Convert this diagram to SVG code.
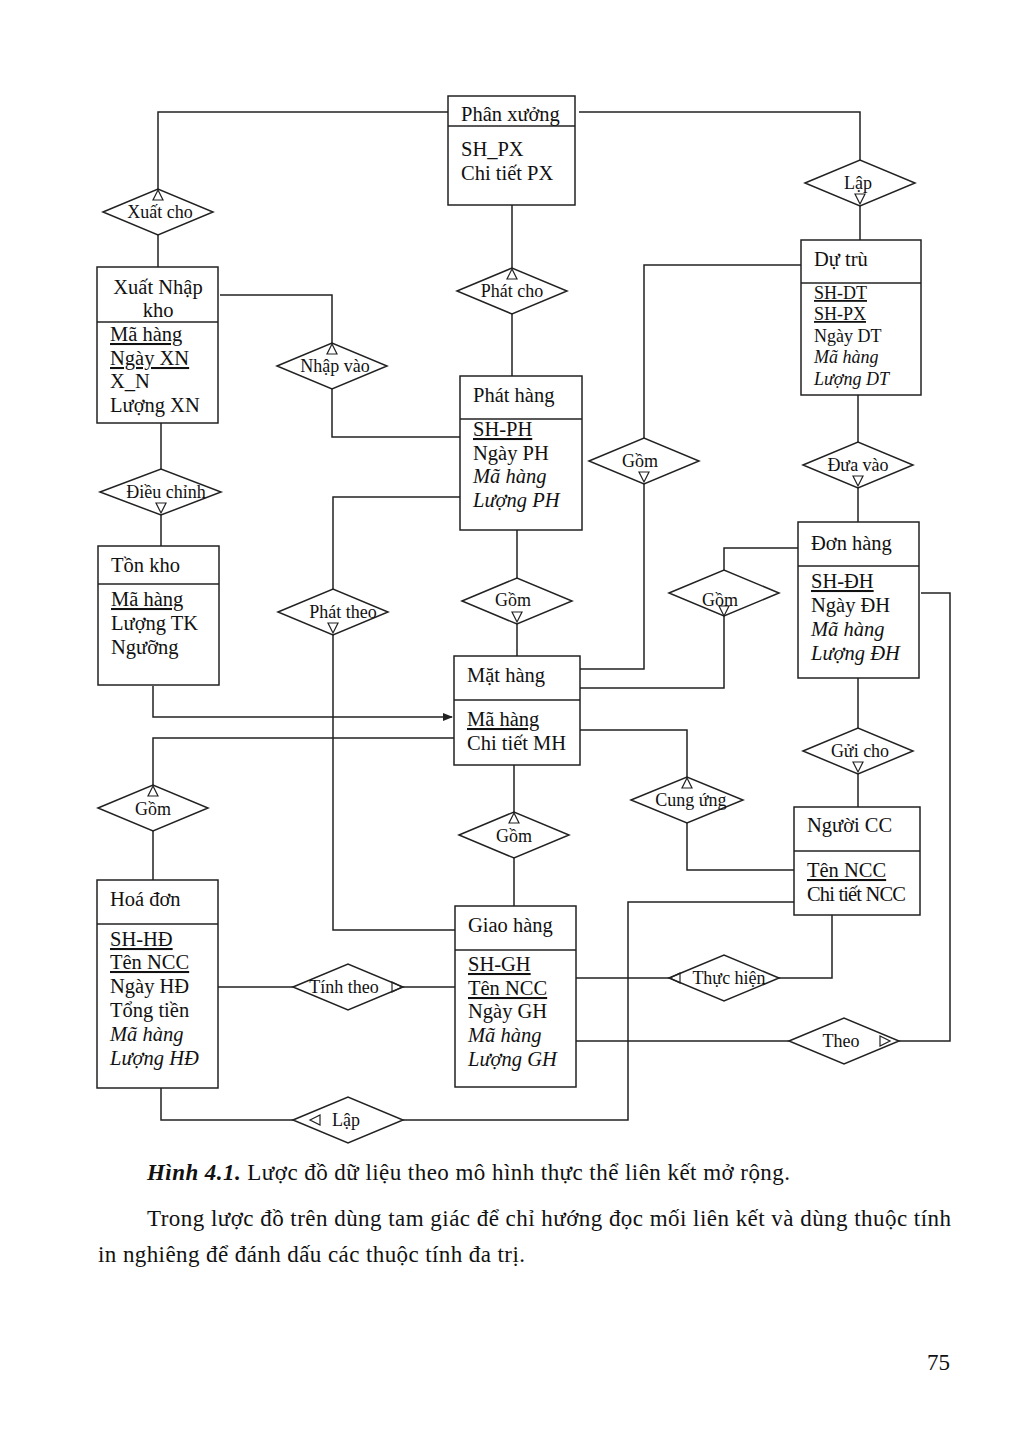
<svg xmlns="http://www.w3.org/2000/svg" width="1024" height="1450" viewBox="0 0 1024 1450">
<style>
.b{fill:#fff;stroke:#222;stroke-width:1.5}
.l{fill:none;stroke:#222;stroke-width:1.5}
.t{font-family:"Liberation Serif",serif;font-size:20.5px;fill:#111}
.s{font-family:"Liberation Serif",serif;font-size:18px;fill:#111}
.d{font-family:"Liberation Serif",serif;font-size:18px;fill:#111;text-anchor:middle}
.u{text-decoration:underline}
.i{font-style:italic}
.tr{fill:none;stroke:#222;stroke-width:1.2}
.c{font-family:"Liberation Serif",serif;font-size:23px;fill:#111}
</style>
<defs>
<marker id="ar" markerWidth="10" markerHeight="8" refX="9" refY="4" orient="auto" markerUnits="userSpaceOnUse"><path d="M0,0 L10,4 L0,8 z" fill="#222"/></marker>
</defs>
<g id="connectors">
<path class="l" d="M448,112 H158 V189 M158,235 V267"/>
<path class="l" d="M579,112 H860 V160 M860,206 V240"/>
<path class="l" d="M512,205 V268 M512,314 V376"/>
<path class="l" d="M220,295 H332 V343 M332,389 V437 H460"/>
<path class="l" d="M161,423 V469 M161,515 V546"/>
<path class="l" d="M153,686 V717 H452" marker-end="url(#ar)"/>
<path class="l" d="M801,265 H644 V438 M644,484 V669 H580"/>
<path class="l" d="M858,395 V442 M858,488 V522"/>
<path class="l" d="M517,530 V578 M517,624 V656"/>
<path class="l" d="M460,497 H333 V589 M333,635 V930 H455"/>
<path class="l" d="M798,548 H724 V570 M724,616 V688 H580"/>
<path class="l" d="M921,593 H950 V1041 H899 M789,1041 H576"/>
<path class="l" d="M858,678 V728 M858,774 V807"/>
<path class="l" d="M454,738 H153 V785 M153,831 V880"/>
<path class="l" d="M580,730 H687 V777 M687,823 V870 H794"/>
<path class="l" d="M514,765 V812 M514,858 V906"/>
<path class="l" d="M218,987 H293 M403,987 H455"/>
<path class="l" d="M576,978 H669 M779,978 H832 V915"/>
<path class="l" d="M161,1088 V1120 H293 M403,1120 H628 V902 H794"/>
</g>
<g id="phan-xuong"><rect class="b" x="448" y="96" width="127" height="109"/><path class="l" d="M448,126 H575"/>
<text class="t" x="461" y="121">Phân xưởng</text><text class="t" x="461" y="156">SH_PX</text><text class="t" x="461" y="180">Chi tiết PX</text></g>
<g id="xuat-nhap-kho"><rect class="b" x="97" y="267" width="121" height="156"/><path class="l" d="M97,322 H218"/>
<text class="t" x="158" y="294" text-anchor="middle">Xuất Nhập</text><text class="t" x="158" y="317" text-anchor="middle">kho</text>
<text class="t u" x="110" y="341">Mã hàng</text><text class="t u" x="110" y="365">Ngày XN</text><text class="t" x="110" y="388">X_N</text><text class="t" x="110" y="412">Lượng XN</text></g>
<g id="du-tru"><rect class="b" x="801" y="240" width="120" height="155"/><path class="l" d="M801,283 H921"/>
<text class="t" x="814" y="266">Dự trù</text><text class="s u" x="814" y="299">SH-DT</text><text class="s u" x="814" y="320">SH-PX</text><text class="s" x="814" y="342">Ngày DT</text><text class="s i" x="814" y="363">Mã hàng</text><text class="s i" x="814" y="385">Lượng DT</text></g>
<g id="phat-hang"><rect class="b" x="460" y="376" width="122" height="154"/><path class="l" d="M460,419 H582"/>
<text class="t" x="473" y="402">Phát hàng</text><text class="t u" x="473" y="436">SH-PH</text><text class="t" x="473" y="460">Ngày PH</text><text class="t i" x="473" y="483">Mã hàng</text><text class="t i" x="473" y="507">Lượng PH</text></g>
<g id="ton-kho"><rect class="b" x="98" y="546" width="121" height="139"/><path class="l" d="M98,584 H219"/>
<text class="t" x="111" y="572">Tồn kho</text><text class="t u" x="111" y="606">Mã hàng</text><text class="t" x="111" y="630">Lượng TK</text><text class="t" x="111" y="654">Ngưỡng</text></g>
<g id="don-hang"><rect class="b" x="798" y="522" width="121" height="156"/><path class="l" d="M798,566 H919"/>
<text class="t" x="811" y="550">Đơn hàng</text><text class="t u" x="811" y="588">SH-ĐH</text><text class="t" x="811" y="612">Ngày ĐH</text><text class="t i" x="811" y="636">Mã hàng</text><text class="t i" x="811" y="660">Lượng ĐH</text></g>
<g id="mat-hang"><rect class="b" x="454" y="656" width="126" height="109"/><path class="l" d="M454,700 H580"/>
<text class="t" x="467" y="682">Mặt hàng</text><text class="t u" x="467" y="726">Mã hàng</text><text class="t" x="467" y="750">Chi tiết MH</text></g>
<g id="nguoi-cc"><rect class="b" x="794" y="807" width="126" height="108"/><path class="l" d="M794,851 H920"/>
<text class="t" x="807" y="832">Người CC</text><text class="t u" x="807" y="877">Tên NCC</text><text class="t" x="807" y="901" textLength="99">Chi tiết NCC</text></g>
<g id="hoa-don"><rect class="b" x="97" y="880" width="121" height="208"/><path class="l" d="M97,924 H218"/>
<text class="t" x="110" y="906">Hoá đơn</text><text class="t u" x="110" y="946">SH-HĐ</text><text class="t u" x="110" y="969">Tên NCC</text><text class="t" x="110" y="993">Ngày HĐ</text><text class="t" x="110" y="1017">Tổng tiền</text><text class="t i" x="110" y="1041">Mã hàng</text><text class="t i" x="110" y="1065">Lượng HĐ</text></g>
<g id="giao-hang"><rect class="b" x="455" y="906" width="121" height="181"/><path class="l" d="M455,950 H576"/>
<text class="t" x="468" y="932">Giao hàng</text><text class="t u" x="468" y="971">SH-GH</text><text class="t u" x="468" y="995">Tên NCC</text><text class="t" x="468" y="1018">Ngày GH</text><text class="t i" x="468" y="1042">Mã hàng</text><text class="t i" x="468" y="1066">Lượng GH</text></g>
<g id="r-xuat-cho"><path class="b" d="M103,212 L158,189 L213,212 L158,235 Z"/><path class="tr" d="M158,190 L163,200 L153,200 Z"/><text class="d" x="160" y="218">Xuất cho</text></g>
<g id="r-lap-top"><path class="b" d="M805,183 L860,160 L915,183 L860,206 Z"/><path class="tr" d="M855,194 L865,194 L860,204 Z"/><text class="d" x="858" y="189">Lập</text></g>
<g id="r-phat-cho"><path class="b" d="M457,291 L512,268 L567,291 L512,314 Z"/><path class="tr" d="M512,269 L517,279 L507,279 Z"/><text class="d" x="512" y="297">Phát cho</text></g>
<g id="r-nhap-vao"><path class="b" d="M277,366 L332,343 L387,366 L332,389 Z"/><path class="tr" d="M332,344 L337,354 L327,354 Z"/><text class="d" x="335" y="372">Nhập vào</text></g>
<g id="r-gom-dt"><path class="b" d="M589,461 L644,438 L699,461 L644,484 Z"/><path class="tr" d="M639,472 L649,472 L644,482 Z"/><text class="d" x="640" y="467">Gồm</text></g>
<g id="r-dua-vao"><path class="b" d="M803,465 L858,442 L913,465 L858,488 Z"/><path class="tr" d="M853,476 L863,476 L858,486 Z"/><text class="d" x="858" y="471">Đưa vào</text></g>
<g id="r-dieu-chinh"><path class="b" d="M100,492 L161,469 L221,492 L161,515 Z"/><path class="tr" d="M156,503 L166,503 L161,513 Z"/><text class="d" x="166" y="498">Điều chỉnh</text></g>
<g id="r-phat-theo"><path class="b" d="M278,612 L333,589 L388,612 L333,635 Z"/><path class="tr" d="M328,623 L338,623 L333,633 Z"/><text class="d" x="343" y="618">Phát theo</text></g>
<g id="r-gom-ph"><path class="b" d="M462,601 L517,578 L572,601 L517,624 Z"/><path class="tr" d="M512,612 L522,612 L517,622 Z"/><text class="d" x="513" y="606">Gồm</text></g>
<g id="r-gom-dh"><path class="b" d="M669,593 L724,570 L779,593 L724,616 Z"/><path class="tr" d="M719,606 L729,606 L724,616 Z"/><text class="d" x="720" y="606">Gồm</text></g>
<g id="r-gui-cho"><path class="b" d="M803,751 L858,728 L913,751 L858,774 Z"/><path class="tr" d="M853,762 L863,762 L858,772 Z"/><text class="d" x="860" y="757">Gửi cho</text></g>
<g id="r-gom-hd"><path class="b" d="M98,808 L153,785 L208,808 L153,831 Z"/><path class="tr" d="M153,786 L158,796 L148,796 Z"/><text class="d" x="153" y="815">Gồm</text></g>
<g id="r-cung-ung"><path class="b" d="M631,800 L687,777 L743,800 L687,823 Z"/><path class="tr" d="M687,778 L692,788 L682,788 Z"/><text class="d" x="691" y="806">Cung ứng</text></g>
<g id="r-gom-gh"><path class="b" d="M459,835 L514,812 L569,835 L514,858 Z"/><path class="tr" d="M514,813 L519,823 L509,823 Z"/><text class="d" x="514" y="842">Gồm</text></g>
<g id="r-tinh-theo"><path class="b" d="M293,987 L348,964 L403,987 L348,1010 Z"/><path class="tr" d="M392,982 L402,987 L392,992 Z"/><text class="d" x="344" y="993">Tính theo</text></g>
<g id="r-thuc-hien"><path class="b" d="M669,978 L724,955 L779,978 L724,1001 Z"/><path class="tr" d="M670,978 L680,973 L680,983 Z"/><text class="d" x="729" y="984">Thực hiện</text></g>
<g id="r-theo"><path class="b" d="M789,1041 L844,1018 L899,1041 L844,1064 Z"/><path class="tr" d="M880,1036 L890,1041 L880,1046 Z"/><text class="d" x="841" y="1047">Theo</text></g>
<g id="r-lap-bot"><path class="b" d="M293,1120 L348,1097 L403,1120 L348,1143 Z"/><path class="tr" d="M310,1120 L320,1115 L320,1125 Z"/><text class="d" x="346" y="1126">Lập</text></g>
<g id="caption">
<text class="c" x="147" y="1180" textLength="643"><tspan font-weight="bold" font-style="italic">Hình 4.1.</tspan> Lược đồ dữ liệu theo mô hình thực thể liên kết mở rộng.</text>
<text class="c" x="147" y="1226" textLength="804">Trong lược đồ trên dùng tam giác để chỉ hướng đọc mối liên kết và dùng thuộc tính</text>
<text class="c" x="98" y="1262" textLength="427">in nghiêng để đánh dấu các thuộc tính đa trị.</text>
<text class="c" x="950" y="1370" text-anchor="end">75</text>
</g>
</svg>
